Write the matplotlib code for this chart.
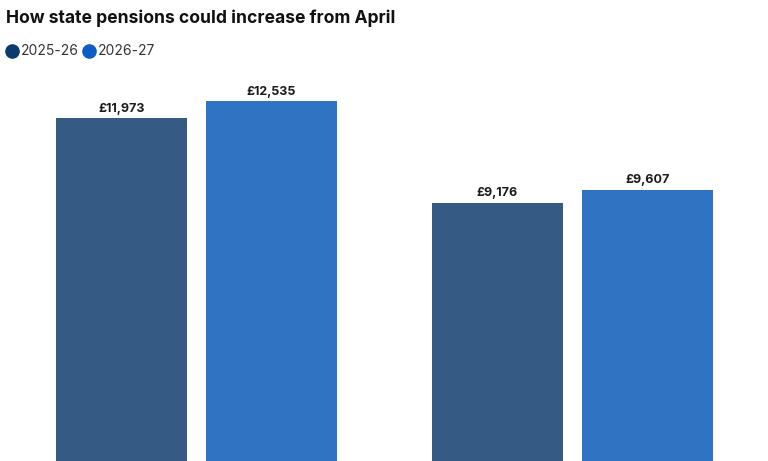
import matplotlib.pyplot as plt
from matplotlib.lines import Line2D
import numpy as np

plt.rcParams['font.family'] = ['Inter', 'DejaVu Sans']

groups = ["Full new state pension", "Full basic state pension"]
series = ["2025-26", "2026-27"]
values_2025 = [11973, 9176]
values_2026 = [12535, 9607]
colors = ["#355a84", "#3173c3"]
legend_colors = ["#0b3a6c", "#0f5cc6"]

fig = plt.figure(figsize=(7.68, 4.61), dpi=100)
ax = fig.add_axes([0, 0, 1, 1])

x = np.arange(len(groups))
width = 0.348
offset = 0.1995

for vals, col, off in zip([values_2025, values_2026], colors, [-offset, offset]):
    bars = ax.bar(x + off, vals, width=width, color=col)
    for b, v in zip(bars, vals):
        ax.annotate(f"£{v:,}", (b.get_x() + b.get_width() / 2, v),
                    xytext=(0, 2.5), textcoords="offset points",
                    ha="center", va="bottom", fontsize=9, fontweight="bold",
                    color="#1a1a1a")

ax.set_xlim(-0.5226, 1.52)
ax.set_ylim(629, 15894)
ax.axis("off")

fig.text(6 / 768, 1 - 18 / 461, "How state pensions could increase from April",
         fontsize=12.6, fontweight="bold", color="#111111", va="center", ha="left")

# legend
lx = [12, 89]
ly = 1 - 51 / 461
for px, name, col in zip(lx, series, legend_colors):
    fig.add_artist(Line2D([px / 768], [ly], marker="o", markersize=9.5,
                          color=col, linestyle="none", transform=fig.transFigure))
    fig.text((px + 9) / 768, ly, name, fontsize=10, color="#333333",
             va="center", ha="left")

fig.savefig("out.png", dpi=100)
